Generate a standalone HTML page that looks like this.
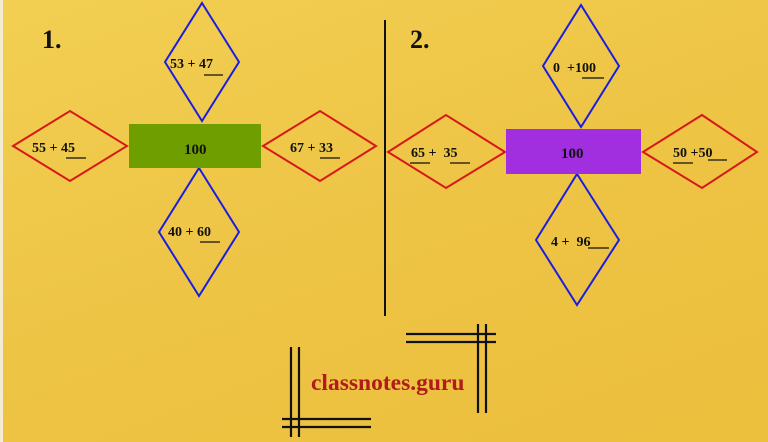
<!DOCTYPE html>
<html><head><style>
html,body{margin:0;padding:0;}
body{width:768px;height:442px;overflow:hidden;background:linear-gradient(160deg,#f2cf52 0%,#eec445 50%,#ecbf3c 100%);}
svg{display:block;}
text{font-family:"Liberation Serif",serif;fill:#111;}
</style></head><body>
<svg width="768" height="442" viewBox="0 0 768 442">
<rect x="0" y="0" width="3" height="442" fill="#f4ecd0"/>
<g fill="none" stroke-width="2">
<polygon points="202,3 239,62 202,121 165,62" stroke="#1a1ee0"/>
<polygon points="199,168 239,232 199,296 159,232" stroke="#1a1ee0"/>
<polygon points="13,146 70,111 127,146 70,181" stroke="#d81818"/>
<polygon points="263,146 320,111 376,146 320,181" stroke="#d81818"/>
<polygon points="581,5 619,66 581,127 543,66" stroke="#1a1ee0"/>
<polygon points="577,174 619,240 577,305 536,240" stroke="#1a1ee0"/>
<polygon points="388,152 446,115 505,152 446,188" stroke="#d81818"/>
<polygon points="643,152 702,115 757,152 702,188" stroke="#d81818"/>
</g>
<rect x="129" y="124" width="132" height="44" fill="#6f9e00"/>
<rect x="506" y="129" width="135" height="45" fill="#a12fe0"/>
<line x1="385" y1="20" x2="385" y2="316" stroke="#111" stroke-width="2"/>
<g font-size="26" font-weight="bold"><text x="42" y="48">1.</text><text x="410" y="48">2.</text></g>
<g font-size="14" font-weight="bold">
<text x="184" y="154" font-size="15">100</text>
<text x="561" y="158" font-size="15">100</text>
<text x="170" y="68">53 + 47</text>
<text x="32" y="152">55 + 45</text>
<text x="290" y="152">67 + 33</text>
<text x="168" y="236">40 + 60</text>
<text x="553" y="72">0 &#160;+100</text>
<text x="411" y="157">65 + &#160;35</text>
<text x="673" y="157">50 +50</text>
<text x="551" y="246">4 + &#160;96</text>
</g>
<g stroke="#111" stroke-width="1.2">
<line x1="204" y1="75" x2="223" y2="75"/>
<line x1="66" y1="158" x2="86" y2="158"/>
<line x1="320" y1="158" x2="340" y2="158"/>
<line x1="200" y1="242" x2="220" y2="242"/>
<line x1="582" y1="78" x2="604" y2="78"/>
<line x1="410" y1="163" x2="430" y2="163"/>
<line x1="450" y1="163" x2="470" y2="163"/>
<line x1="673" y1="163" x2="693" y2="163"/>
<line x1="708" y1="160" x2="727" y2="160"/>
<line x1="588" y1="248" x2="609" y2="248"/>
</g>
<g stroke="#111" stroke-width="2.2">
<line x1="291" y1="347" x2="291" y2="437"/><line x1="299" y1="347" x2="299" y2="437"/>
<line x1="282" y1="419" x2="371" y2="419"/><line x1="282" y1="427" x2="371" y2="427"/>
<line x1="478" y1="324" x2="478" y2="413"/><line x1="486" y1="324" x2="486" y2="413"/>
<line x1="406" y1="334" x2="496" y2="334"/><line x1="406" y1="342" x2="496" y2="342"/>
</g>
<text x="311" y="390" font-size="23.5" font-weight="bold" style="fill:#b01c1c">classnotes.guru</text>
</svg>
</body></html>
